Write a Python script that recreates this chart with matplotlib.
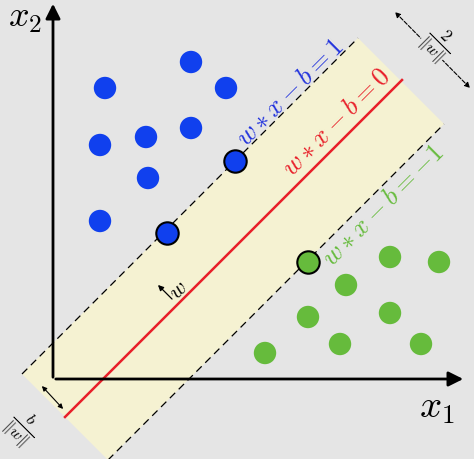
import matplotlib.pyplot as plt
import numpy as np
from matplotlib.patches import Polygon

plt.rcParams['mathtext.fontset'] = 'cm'

blue_x = [105, 191, 226, 100, 146, 191, 148, 100]
blue_y = [89, 63, 89, 146, 138, 129, 179, 222]
blue_sv_x = [235, 167]
blue_sv_y = [162, 234]
green_x = [390, 439, 346, 308, 390, 265, 340, 421]
green_y = [258, 263, 286, 318, 314, 354, 345, 345]
green_sv_x = [308]
green_sv_y = [263]
# lines x + y = c (pixel-like coords)
c_upper, c_mid, c_lower = 397, 483, 569

fig = plt.figure(figsize=(4.74, 4.6), dpi=100)
fig.patch.set_facecolor('#e5e5e5')
ax = fig.add_axes([0, 0, 1, 1])
ax.set_xlim(0, 474); ax.set_ylim(460, 0); ax.axis('off')
ax.set_facecolor('#e5e5e5')

band = Polygon([(22, c_upper-22), (358, c_upper-358), (444, c_lower-444), (108, c_lower-108)],
               closed=True, facecolor='#f5f2d2', edgecolor='none', zorder=1)
ax.add_patch(band)
xu = np.array([22, 358]); ax.plot(xu, c_upper-xu, '--', color='black', lw=0.9, dashes=(6, 4), zorder=2)
xl = np.array([108, 444]); ax.plot(xl, c_lower-xl, '--', color='black', lw=0.9, dashes=(6, 4), zorder=2)
xm = np.array([65, 402]); ax.plot(xm, c_mid-xm, color='#e8202a', lw=1.8, zorder=3)

# axes
ax.annotate('', xy=(466, 380), xytext=(53, 380), arrowprops=dict(arrowstyle='-|>', lw=2, color='black', mutation_scale=22), zorder=4)
ax.annotate('', xy=(53, 2), xytext=(53, 381), arrowprops=dict(arrowstyle='-|>', lw=2, color='black', mutation_scale=22), zorder=4)
ax.text(437, 407, r'$x_1$', fontsize=28, ha='center', va='center')
ax.text(25, 18, r'$x_2$', fontsize=26, ha='center', va='center')

ax.scatter(blue_x, blue_y, s=260, color='#1040ee', edgecolor='none', zorder=5)
ax.scatter(blue_sv_x, blue_sv_y, s=260, color='#1040ee', edgecolor='black', lw=1.5, zorder=5)
ax.scatter(green_x, green_y, s=260, color='#66bb3c', edgecolor='none', zorder=5)
ax.scatter(green_sv_x, green_sv_y, s=260, color='#66bb3c', edgecolor='black', lw=1.5, zorder=5)

ax.text(290, 93, r'$w*x-b=1$', color='#2233dd', fontsize=19, rotation=45, ha='center', va='center')
ax.text(336, 122, r'$w*x-b=0$', color='#e8202a', fontsize=19, rotation=45, ha='center', va='center')
ax.text(384, 206, r'$w*x-b=-1$', color='#66bb3c', fontsize=19, rotation=45, ha='center', va='center')

# w arrow
ax.annotate('', xy=(156, 284), xytext=(174, 302), arrowprops=dict(arrowstyle='-|>', lw=0.9, color='black', mutation_scale=8))
ax.text(178, 290, r'$w$', fontsize=16, rotation=45, ha='center', va='center')

# margin arrow
ax.annotate('', xy=(393, 11), xytext=(472, 91), arrowprops=dict(arrowstyle='<|-|>', lw=0.8, ls='--', color='black', mutation_scale=8))
ax.text(438, 44, r'$\frac{2}{\|w\|}$', fontsize=17, rotation=-45, ha='center', va='center',
        bbox=dict(facecolor='#e5e5e5', edgecolor='none', pad=0))
# b arrow
ax.annotate('', xy=(40, 385), xytext=(65, 412), arrowprops=dict(arrowstyle='<|-|>', lw=0.8, color='black', mutation_scale=7))
ax.text(22, 428, r'$\frac{b}{\|w\|}$', fontsize=17, rotation=-45, ha='center', va='center')

fig.savefig('out.png', dpi=100, facecolor=fig.get_facecolor())
